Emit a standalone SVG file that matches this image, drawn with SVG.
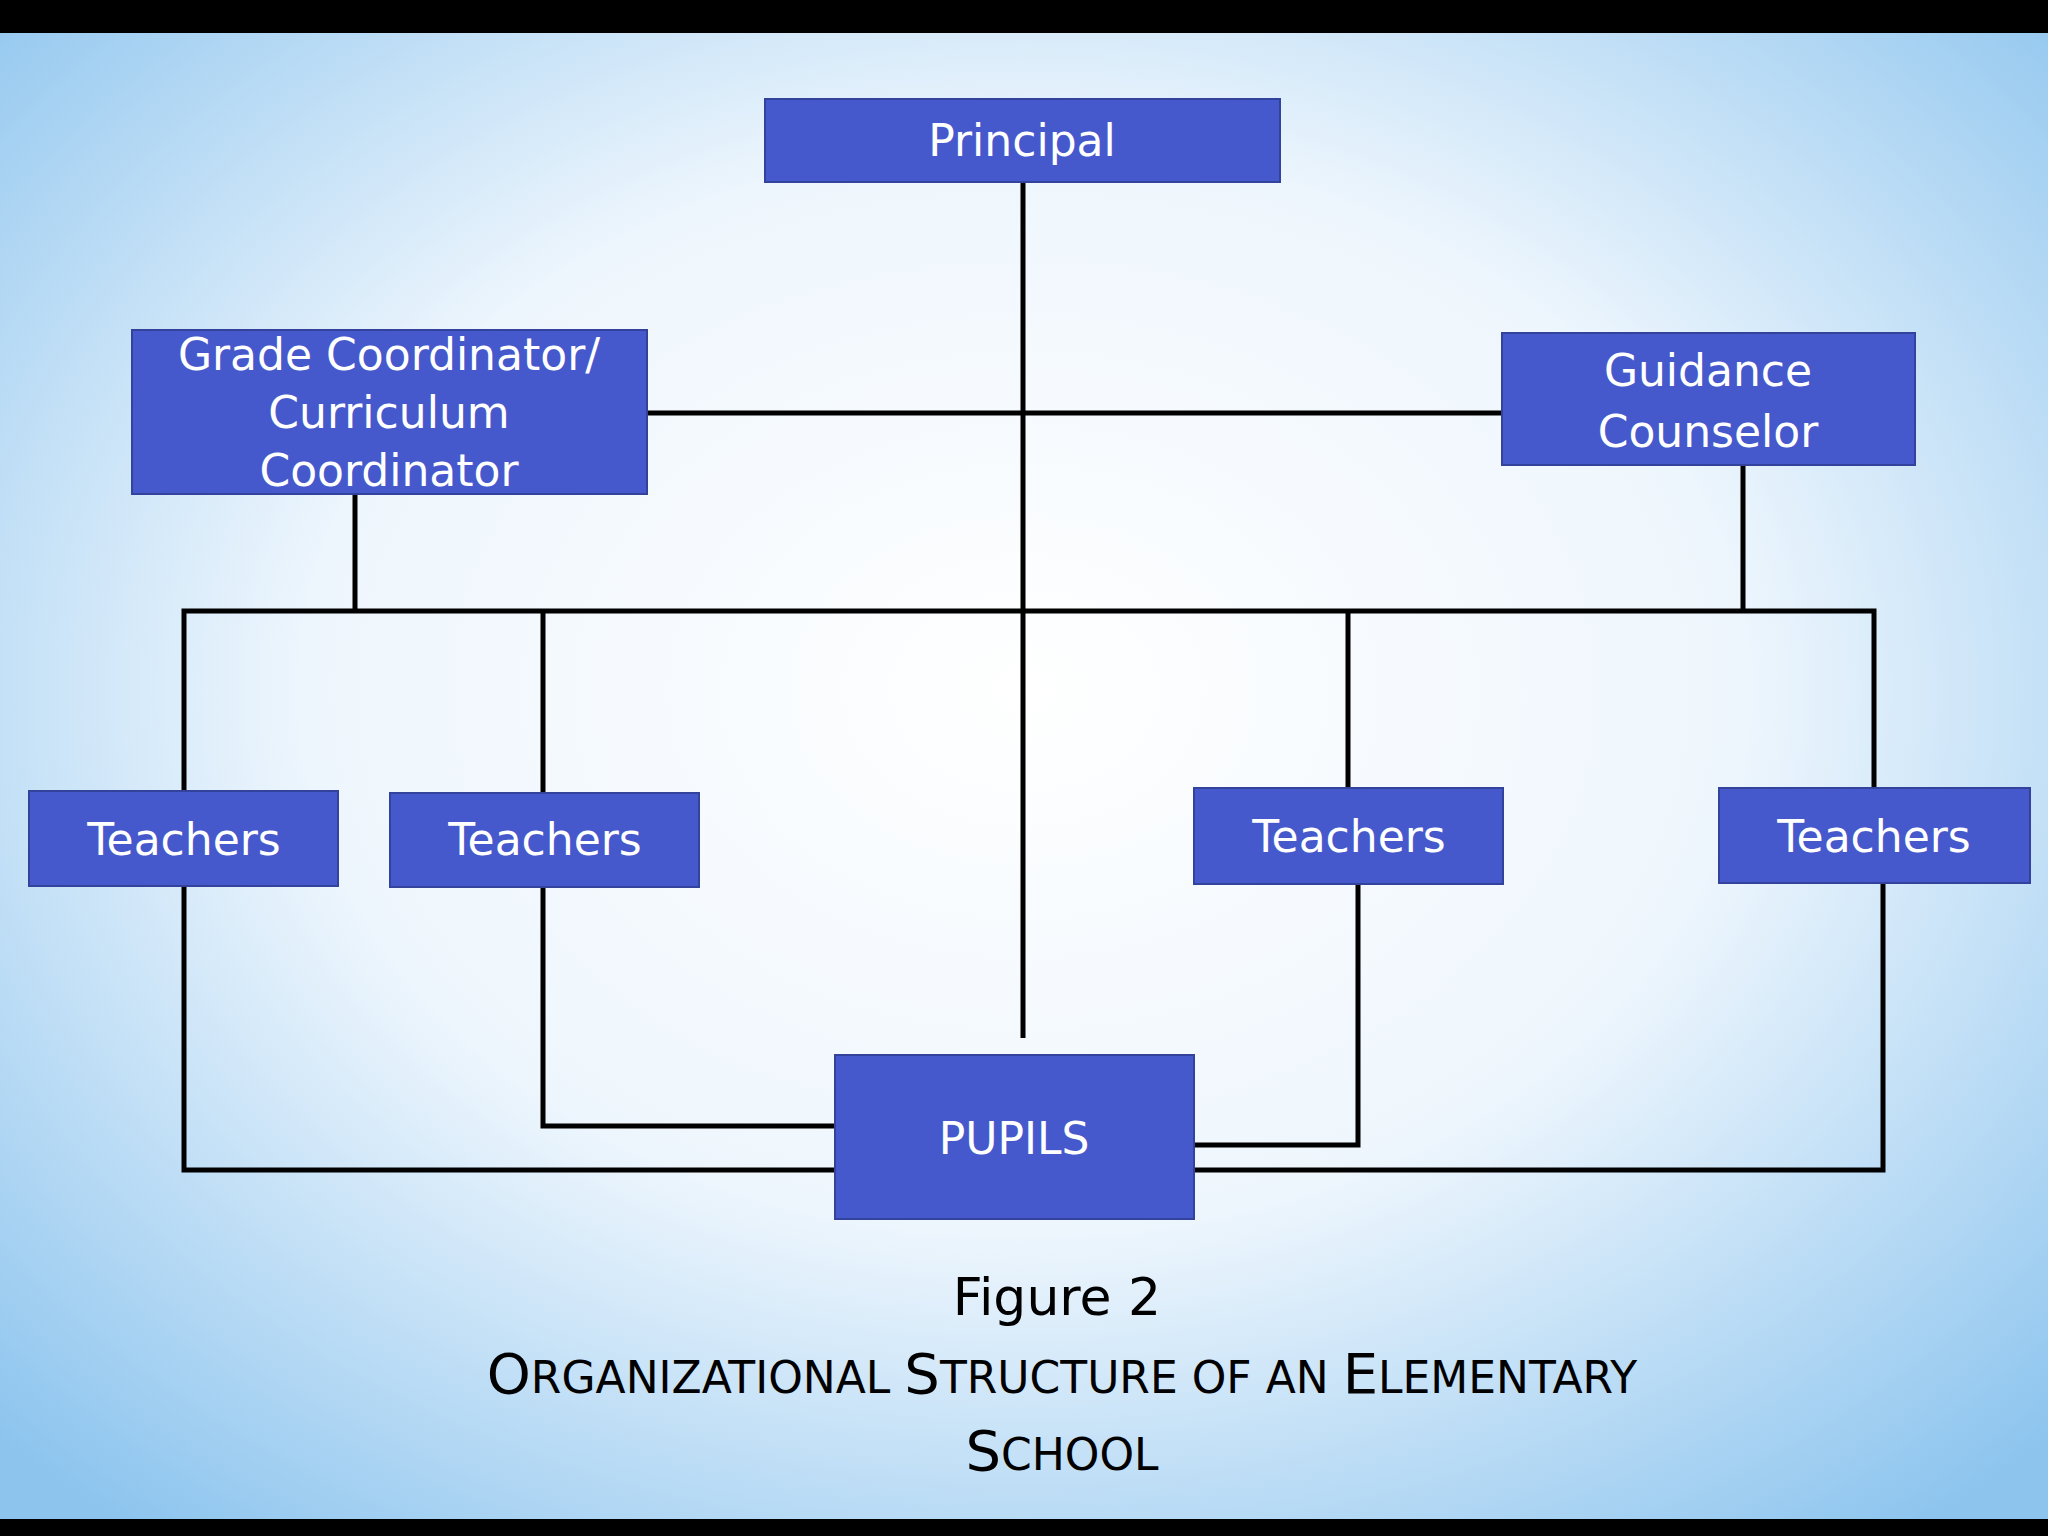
<svg xmlns="http://www.w3.org/2000/svg" width="2048" height="1536" viewBox="0 0 2048 1536">
<defs>
<radialGradient id="bg" cx="0.5" cy="0.45" r="0.7">
<stop offset="0" stop-color="#ffffff"/><stop offset="0.5" stop-color="#eef6fd"/><stop offset="1" stop-color="#8cc4ee"/>
</radialGradient>
<style>
.n{fill:#4659cc;stroke:#33429a;stroke-width:2}
.t{font-family:"DejaVu Sans",sans-serif;font-size:44px;fill:#fff;text-anchor:middle}
.c{fill:none;stroke:#000;stroke-width:5}
.cap{font-family:"DejaVu Sans",sans-serif;fill:#000;text-anchor:middle}
</style>
</defs>
<rect width="2048" height="1536" fill="url(#bg)"/>
<rect width="2048" height="33" fill="#000"/>
<rect y="1519" width="2048" height="17" fill="#000"/>
<g id="connectors" class="c">
<path d="M1023 182V1038"/>
<path d="M647 413H1502"/>
<path d="M355 494V611"/>
<path d="M1743 465V611"/>
<path d="M184 791V611H1874V788"/>
<path d="M543 611V793"/>
<path d="M1348 611V788"/>
<path d="M184 886V1170H835"/>
<path d="M543 887V1126H835"/>
<path d="M1358 884V1145H1194"/>
<path d="M1883 883V1170H1194"/>
</g>
<g id="principal"><rect class="n" x="765" y="99" width="515" height="83"/><text class="t" x="1022" y="156">Principal</text></g>
<g id="grade"><rect class="n" x="132" y="330" width="515" height="164"/><text class="t" x="389" y="370">Grade Coordinator/</text><text class="t" x="389" y="428">Curriculum</text><text class="t" x="389" y="486">Coordinator</text></g>
<g id="guidance"><rect class="n" x="1502" y="333" width="413" height="132"/><text class="t" x="1708" y="386">Guidance</text><text class="t" x="1708" y="447">Counselor</text></g>
<g id="t1"><rect class="n" x="29" y="791" width="309" height="95"/><text class="t" x="184" y="855">Teachers</text></g>
<g id="t2"><rect class="n" x="390" y="793" width="309" height="94"/><text class="t" x="545" y="855">Teachers</text></g>
<g id="t3"><rect class="n" x="1194" y="788" width="309" height="96"/><text class="t" x="1349" y="852">Teachers</text></g>
<g id="t4"><rect class="n" x="1719" y="788" width="311" height="95"/><text class="t" x="1874" y="852">Teachers</text></g>
<g id="pupils"><rect class="n" x="835" y="1055" width="359" height="164"/><text class="t" x="1014" y="1154">PUPILS</text></g>
<g id="caption">
<text class="cap" x="1057" y="1315" font-size="52">Figure 2</text>
<text class="cap" x="1062" y="1393" font-size="44"><tspan font-size="56">O</tspan>RGANIZATIONAL <tspan font-size="56">S</tspan>TRUCTURE OF AN <tspan font-size="56">E</tspan>LEMENTARY</text>
<text class="cap" x="1062" y="1470" font-size="44"><tspan font-size="56">S</tspan>CHOOL</text>
</g>
</svg>
